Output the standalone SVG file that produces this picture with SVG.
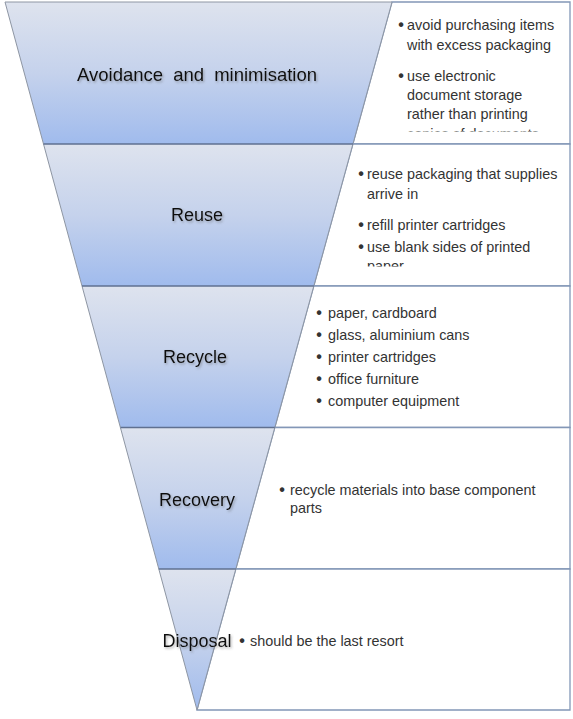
<svg xmlns="http://www.w3.org/2000/svg" width="573" height="719" viewBox="0 0 573 719">
  <defs>
    <linearGradient id="bandFill" x1="0" y1="0" x2="0" y2="1">
      <stop offset="0" stop-color="#dee3ee"/>
      <stop offset="0.5" stop-color="#c5d2ec"/>
      <stop offset="1" stop-color="#a0bbed"/>
    </linearGradient>
    <filter id="labelShadow" x="-10%" y="-30%" width="120%" height="160%">
      <feDropShadow dx="1.2" dy="1.5" stdDeviation="1" flood-color="#555" flood-opacity="0.45"/>
    </filter>
    <clipPath id="clip1"><rect x="340" y="2" width="232" height="129.5"/></clipPath>
    <clipPath id="clip2"><rect x="300" y="144" width="272" height="122.5"/></clipPath>
    <style>
      .box { fill: #ffffff; stroke: #8397b7; stroke-width: 1.3; }
      .band { fill: url(#bandFill); stroke: none; }
      .edge { stroke: #8e96a3; stroke-width: 1; fill: none; }
      .divider { stroke: #5f7090; stroke-width: 1.3; }
      .label { font-family: "Liberation Sans", Arial, sans-serif; font-size: 18px; fill: #111111; text-anchor: middle; filter: url(#labelShadow); }
      .body { font-family: "Liberation Sans", Arial, sans-serif; font-size: 14.4px; fill: #333333; }
      .bullet { font-family: "Liberation Sans", Arial, sans-serif; font-size: 16px; font-weight: bold; fill: #333333; text-anchor: middle; }
    </style>
  </defs>

  <g id="tier-avoidance">
    <polygon class="box" points="392,2 570,2 570,144 352.9,144"/>
    <polygon class="band" points="5,2 392,2 352.9,144 43.5,144"/>
    <line class="edge" x1="5" y1="2" x2="43.5" y2="144"/>
    <line class="edge" x1="392" y1="2" x2="352.9" y2="144"/>
    <line class="edge" x1="5" y1="2" x2="392" y2="2"/>
    <text class="label" x="197" y="81" style="font-size:18.5px" word-spacing="5">Avoidance and minimisation</text>
    <g clip-path="url(#clip1)">
      <text class="bullet" x="401" y="30">•</text>
      <text class="body" x="407" y="30">avoid purchasing items</text>
      <text class="body" x="407" y="50">with excess packaging</text>
      <text class="bullet" x="401" y="81">•</text>
      <text class="body" x="407" y="81">use electronic</text>
      <text class="body" x="407" y="100">document storage</text>
      <text class="body" x="407" y="119">rather than printing</text>
      <text class="body" x="407" y="138.5">copies of documents</text>
    </g>
  </g>

  <g id="tier-reuse">
    <polygon class="box" points="352.9,144 570,144 570,286 313.8,286"/>
    <polygon class="band" points="43.5,144 352.9,144 313.8,286 82,286"/>
    <line class="edge" x1="43.5" y1="144" x2="82" y2="286"/>
    <line class="edge" x1="352.9" y1="144" x2="313.8" y2="286"/>
    <text class="label" x="197" y="221">Reuse</text>
    <g clip-path="url(#clip2)">
      <text class="bullet" x="361" y="179">•</text>
      <text class="body" x="367" y="179">reuse packaging that supplies</text>
      <text class="body" x="367" y="199">arrive in</text>
      <text class="bullet" x="361" y="230">•</text>
      <text class="body" x="367" y="230">refill printer cartridges</text>
      <text class="bullet" x="361" y="251.5">•</text>
      <text class="body" x="367" y="251.5">use blank sides of printed</text>
      <text class="body" x="367" y="271">paper</text>
    </g>
  </g>

  <g id="tier-recycle">
    <polygon class="box" points="313.8,286 570,286 570,427.5 274.8,427.5"/>
    <polygon class="band" points="82,286 313.8,286 274.8,427.5 120.4,427.5"/>
    <line class="edge" x1="82" y1="286" x2="120.4" y2="427.5"/>
    <line class="edge" x1="313.8" y1="286" x2="274.8" y2="427.5"/>
    <text class="label" x="195" y="363">Recycle</text>
    <text class="bullet" x="319" y="317.5">•</text>
    <text class="body" x="328" y="317.5">paper, cardboard</text>
    <text class="bullet" x="319" y="339.5">•</text>
    <text class="body" x="328" y="339.5">glass, aluminium cans</text>
    <text class="bullet" x="319" y="361.5">•</text>
    <text class="body" x="328" y="361.5">printer cartridges</text>
    <text class="bullet" x="319" y="384">•</text>
    <text class="body" x="328" y="384">office furniture</text>
    <text class="bullet" x="319" y="406">•</text>
    <text class="body" x="328" y="406">computer equipment</text>
  </g>

  <g id="tier-recovery">
    <polygon class="box" points="274.8,427.5 570,427.5 570,569 235.8,569"/>
    <polygon class="band" points="120.4,427.5 274.8,427.5 235.8,569 158.8,569"/>
    <line class="edge" x1="120.4" y1="427.5" x2="158.8" y2="569"/>
    <line class="edge" x1="274.8" y1="427.5" x2="235.8" y2="569"/>
    <text class="label" x="197" y="506">Recovery</text>
    <text class="bullet" x="282" y="495">•</text>
    <text class="body" x="290" y="495">recycle materials into base component</text>
    <text class="body" x="290" y="513">parts</text>
  </g>

  <g id="tier-disposal">
    <polygon class="box" points="235.8,569 570,569 570,710 197,710"/>
    <polygon class="band" points="158.8,569 235.8,569 197,710"/>
    <line class="edge" x1="158.8" y1="569" x2="197" y2="710"/>
    <line class="edge" x1="235.8" y1="569" x2="197" y2="710"/>
    <text class="label" x="197" y="647">Disposal</text>
    <text class="bullet" x="242" y="646">•</text>
    <text class="body" x="250" y="646">should be the last resort</text>
  </g>

  <g id="dividers">
    <line class="divider" x1="43.5" y1="144" x2="352.9" y2="144"/>
    <line class="divider" x1="82" y1="286" x2="313.8" y2="286"/>
    <line class="divider" x1="120.4" y1="427.5" x2="274.8" y2="427.5"/>
    <line class="divider" x1="158.8" y1="569" x2="235.8" y2="569"/>
  </g>
</svg>
